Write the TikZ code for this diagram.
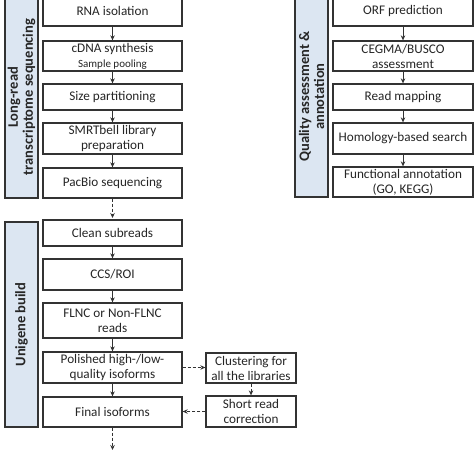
\documentclass[tikz,border=0pt]{standalone}
\usepackage{fontspec}
\setmainfont{Carlito}
\usetikzlibrary{arrows.meta}
\definecolor{sidebg}{HTML}{DCE6F2}
\definecolor{ink}{HTML}{333333}

\begin{document}
\begin{tikzpicture}[x=1pt,y=-1pt,
    box/.style={draw=ink, line width=1.3pt, fill=white, text=black!85, align=center, inner sep=1pt,
        font=\fontsize{13.2}{15}\selectfont},
    wide/.style={box, minimum width=139pt},
    narrow/.style={box, minimum width=90pt},
    side/.style={draw=ink, line width=1.3pt, fill=sidebg, text=black!85, align=center, rotate=90,
        minimum height=33pt, inner sep=0pt, font=\bfseries\fontsize{14.5}{15}\selectfont},
    link/.style={-{Stealth[length=5pt,width=4.5pt]}, line width=1pt, draw=ink},
    dlink/.style={link, densely dashed}]
    \path[use as bounding box, clip] (0,0) rectangle (474,452);
    \fill[white] (0,0) rectangle (474,452);
    \node[side, minimum width=202pt] (lrside) at (21.5,97) {Long-read\\transcriptome sequencing};
    \node[side, minimum width=205pt] (ubside) at (21.5,324.5) {Unigene build};
    \node[side, minimum width=201pt] (qaside) at (311.5,96.5) {Quality assessment \&\\annotation};
    \node[wide, minimum height=30pt] (rna) at (112.5,11) {RNA isolation};
    \node[wide, minimum height=30pt] (cdna) at (112.5,56) {cDNA synthesis\\{\fontsize{11}{12.5}\selectfont Sample pooling}};
    \node[wide, minimum height=26pt] (size) at (112.5,97) {Size partitioning};
    \node[wide, minimum height=31pt] (smrt) at (112.5,138.5) {SMRTbell library\\preparation};
    \node[wide, minimum height=30pt] (pacbio) at (112.5,183) {PacBio sequencing};
    \node[wide, minimum height=26pt] (clean) at (112.5,233) {Clean subreads};
    \node[wide, minimum height=31pt] (ccs) at (112.5,274.5) {CCS/ROI};
    \node[wide, minimum height=35pt] (flnc) at (112.5,320.5) {FLNC or Non-FLNC\\reads};
    \node[wide, minimum height=31pt] (polished) at (112.5,367.5) {Polished high-/low-\\quality isoforms};
    \node[wide, minimum height=30pt] (final) at (112.5,412) {Final isoforms};
    \node[narrow, minimum height=30pt] (clust) at (251,368) {Clustering for\\all the libraries};
    \node[narrow, minimum height=31pt] (short) at (251,411.5) {Short read\\correction};
    \node[wide, minimum width=140pt, minimum height=30pt] (orf) at (403,11) {ORF prediction};
    \node[wide, minimum width=140pt, minimum height=30pt] (cegma) at (403,56) {CEGMA/BUSCO\\assessment};
    \node[wide, minimum width=140pt, minimum height=26pt] (mapping) at (403,97) {Read mapping};
    \node[wide, minimum width=140pt, minimum height=31pt] (homology) at (403,138.5) {Homology-based search};
    \node[wide, minimum width=140pt, minimum height=30pt] (func) at (403,182) {Functional annotation\\(GO, KEGG)};
    \coordinate (gapend) at (112.5,218);
    \coordinate (lastend) at (112.5,450);
    \foreach \a/\b in {rna/cdna, cdna/size, size/smrt, smrt/pacbio, clean/ccs, ccs/flnc, flnc/polished,
        polished/final, orf/cegma, cegma/mapping, mapping/homology, homology/func}
        {\draw[link] (\a) -- (\b);}
    \draw[dlink, line width=1.6pt] (pacbio) -- (gapend);
    \draw[dlink, line width=1.6pt] (final) -- (lastend);
    \draw[dlink] (polished.east) -- (polished.east -| clust.west);
    \draw[dlink] (clust) -- (short);
    \draw[dlink] (short.west) -- (short.west -| final.east);
\end{tikzpicture}
\end{document}
